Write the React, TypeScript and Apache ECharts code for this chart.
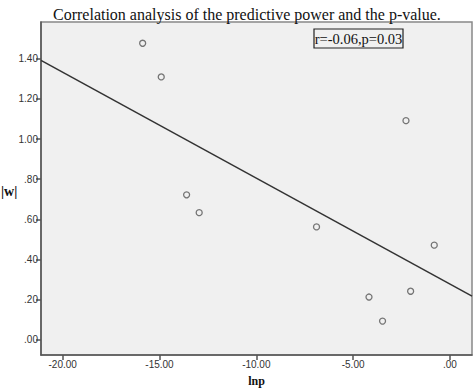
import React, { useEffect, useRef } from "react";
import * as echarts from "echarts";

const titleText = "Correlation analysis of the predictive power and the p-value.";
const annotation = "r=-0.06,p=0.03";
const xName = "lnp";
const yName = "|w|";

const lnpValues = [-15.87, -14.91, -13.6, -12.95, -6.89, -4.18, -3.48, -2.27, -2.03, -0.81];
const wValues = [1.478, 1.31, 0.722, 0.633, 0.562, 0.212, 0.092, 1.092, 0.241, 0.471];

const fitX = [-21.12, 1.14];
const fitY = [1.393, 0.217];

const xTicks = [-20, -15, -10, -5, 0];
const yTicks = [0, 0.2, 0.4, 0.6, 0.8, 1.0, 1.2, 1.4];

const fmt = (v: number) => {
  let s = Math.abs(v).toFixed(2);
  if (s.startsWith("0.")) s = s.slice(1);
  return (v < 0 ? "-" : "") + s;
};

export default function App() {
  const ref = useRef<HTMLDivElement>(null);
  useEffect(() => {
    if (!ref.current) return;
    const chart = echarts.init(ref.current, undefined, { renderer: "svg" });
    const labelStyle = {
      color: "#333",
      fontSize: 10,
      fontFamily: "Liberation Sans, Arial, sans-serif",
      formatter: (v: number) => fmt(v),
    };
    chart.setOption({
      animation: false,
      backgroundColor: "#ffffff",
      title: {
        text: titleText,
        left: 48,
        top: 1,
        textStyle: {
          fontFamily: "Liberation Serif, Times New Roman, serif",
          fontWeight: "normal",
          fontSize: 16,
          color: "#111",
        },
      },
      grid: {
        left: 41,
        top: 22,
        right: 2,
        bottom: 33,
        show: true,
        backgroundColor: "#f0f0f0",
        borderColor: "#888",
        borderWidth: 1.5,
      },
      xAxis: {
        type: "value",
        min: -21.12,
        max: 1.14,
        name: xName,
        nameLocation: "middle",
        nameGap: 20,
        nameTextStyle: {
          fontFamily: "Liberation Serif, Times New Roman, serif",
          fontWeight: "bold",
          fontSize: 12,
          color: "#111",
        },
        splitLine: { show: false },
        axisLine: { onZero: false, lineStyle: { color: "#555", width: 1.5 } },
        axisTick: { show: true, length: 5, customValues: xTicks, lineStyle: { color: "#555", width: 1.5 } },
        axisLabel: { ...labelStyle, margin: 4, customValues: xTicks },
      },
      yAxis: {
        type: "value",
        min: -0.077,
        max: 1.584,
        splitLine: { show: false },
        axisLine: { onZero: false, lineStyle: { color: "#555", width: 1.5 } },
        axisTick: { show: true, length: 5, customValues: yTicks, lineStyle: { color: "#555", width: 1.5 } },
        axisLabel: { ...labelStyle, margin: 3, customValues: yTicks },
      },
      graphic: [
        {
          type: "text",
          left: 1,
          top: 184,
          style: {
            text: yName,
            fontFamily: "Liberation Serif, Times New Roman, serif",
            fontWeight: "bold",
            fontSize: 14,
            fill: "#111",
          },
        },
        {
          type: "rect",
          shape: { x: 314, y: 29, width: 89, height: 19 },
          style: { fill: "#f0f0f0", stroke: "#222", lineWidth: 1.2 },
          z: 10,
        },
        {
          type: "text",
          x: 358.5,
          y: 38.5,
          z: 11,
          style: {
            text: annotation,
            align: "center",
            verticalAlign: "middle",
            fontFamily: "Liberation Serif, Times New Roman, serif",
            fontSize: 14.5,
            fill: "#111",
          },
        },
      ],
      series: [
        {
          type: "line",
          data: fitX.map((x, i) => [x, fitY[i]]),
          showSymbol: false,
          lineStyle: { color: "#333", width: 1.5 },
          z: 2,
        },
        {
          type: "scatter",
          data: lnpValues.map((x, i) => [x, wValues[i]]),
          symbol: "circle",
          symbolSize: 6,
          itemStyle: { color: "#f0f0f0", borderColor: "#555", borderWidth: 1.3 },
          z: 3,
        },
      ],
    });
    return () => chart.dispose();
  }, []);
  return (
    <div
      ref={ref}
      style={{ position: "fixed", left: 0, top: 0, width: 474, height: 392 }}
    />
  );
}
